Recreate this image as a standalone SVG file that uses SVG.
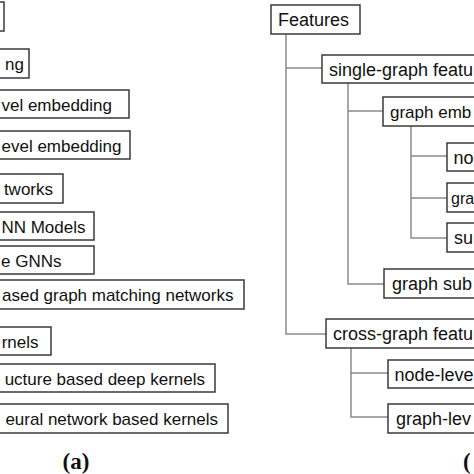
<svg xmlns="http://www.w3.org/2000/svg" width="474" height="474" viewBox="0 0 474 474">
<style>
.box{fill:#fff;stroke:#3a3a3a;stroke-width:1.5}
.t{font-family:"Liberation Sans",Arial,sans-serif;font-size:18px;fill:#111}
.l{font-size:17px;text-anchor:end}
.ln{fill:none;stroke:#8a8a8a;stroke-width:1.5}
.cap{font-family:"Liberation Serif","Times New Roman",serif;font-size:23px;font-weight:bold;fill:#111}
</style>
<rect width="474" height="474" fill="#fff"/>
<g id="connectors">
<path class="ln" d="M286 34V334H326M286 68H322"/>
<path class="ln" d="M348 83V284H384M348 111H383"/>
<path class="ln" d="M411 126V238H447M411 156H447M411 198H447"/>
<path class="ln" d="M351 348V417H388M351 373H388"/>
</g>
<g id="a1"><rect class="box" x="-60" y="2" width="64" height="29"/></g>
<g id="a2"><rect class="box" x="-60" y="49" width="89" height="29"/><text class="t l" x="24" y="70">ng</text></g>
<g id="a3"><rect class="box" x="-60" y="90" width="189" height="28"/><text class="t l" x="112" y="111">vel embedding</text></g>
<g id="a4"><rect class="box" x="-60" y="131" width="190" height="28"/><text class="t l" x="121.5" y="152">evel embedding</text></g>
<g id="a5"><rect class="box" x="-60" y="174" width="123" height="29"/><text class="t l" x="53" y="195">tworks</text></g>
<g id="a6"><rect class="box" x="-60" y="212" width="154" height="28"/><text class="t l" x="85.5" y="233">NN Models</text></g>
<g id="a7"><rect class="box" x="-60" y="246" width="154" height="28"/><text class="t l" x="61.5" y="267">e GNNs</text></g>
<g id="a8"><rect class="box" x="-60" y="280" width="304" height="29"/><text class="t l" x="233.5" y="301">ased graph matching networks</text></g>
<g id="a9"><rect class="box" x="-60" y="327" width="111" height="28"/><text class="t l" x="38.5" y="348">rnels</text></g>
<g id="a10"><rect class="box" x="-60" y="364" width="275" height="28"/><text class="t l" x="205" y="385">ucture based deep kernels</text></g>
<g id="a11"><rect class="box" x="-60" y="404" width="288" height="29"/><text class="t l" x="218" y="425">eural network based kernels</text></g>
<text class="cap" x="76" y="469" text-anchor="middle">(a)</text>
<g id="features"><rect class="box" x="271" y="5" width="89" height="29"/><text class="t" x="278" y="26">Features</text></g>
<g id="single-graph"><rect class="box" x="322" y="55" width="200" height="28"/><text class="t" x="329" y="76">single-graph featu</text></g>
<g id="graph-emb"><rect class="box" x="383" y="97" width="140" height="29"/><text class="t" x="390" y="118" style="font-size:17px">graph emb</text></g>
<g id="node"><rect class="box" x="447" y="143" width="80" height="28"/><text class="t" x="453.5" y="164">no</text></g>
<g id="gra"><rect class="box" x="447" y="183" width="80" height="29"/><text class="t" x="451" y="204" style="font-size:16px">gra</text></g>
<g id="su"><rect class="box" x="447" y="223" width="80" height="29"/><text class="t" x="454" y="244">su</text></g>
<g id="graph-subs"><rect class="box" x="384" y="269" width="140" height="29"/><text class="t" x="392" y="290">graph sub</text></g>
<g id="cross-graph"><rect class="box" x="326" y="319" width="200" height="29"/><text class="t" x="333" y="340">cross-graph featu</text></g>
<g id="node-level"><rect class="box" x="388" y="360" width="140" height="28"/><text class="t" x="394.5" y="381">node-leve</text></g>
<g id="graph-level"><rect class="box" x="388" y="404" width="140" height="29"/><text class="t" x="396" y="425">graph-lev</text></g>
<text class="cap" x="463" y="469">(</text>
</svg>
